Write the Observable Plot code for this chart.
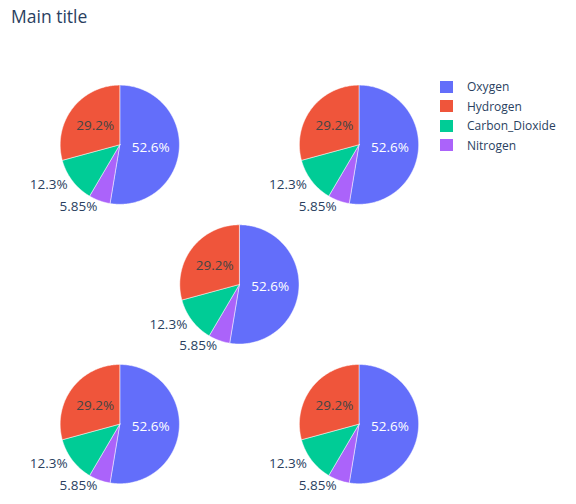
<!DOCTYPE html>
<html>
<head>
<meta charset="utf-8">
<script src="https://cdn.jsdelivr.net/npm/d3@7"></script>
<script src="https://cdn.jsdelivr.net/npm/@observablehq/plot@0.6"></script>
<style>
  body { margin: 0; background: #fff; font-family: "Open Sans", sans-serif; }
  #wrap { position: relative; width: 576px; height: 504px; overflow: hidden; }
  #header { position: relative; height: 40px; }
  #title { position: absolute; left: 11px; top: 4px; font-size: 17.5px; line-height: 24px; color: #2a3f5f; white-space: nowrap; }
  #legend { position: absolute; left: 0; top: 0; }
  .item { position: absolute; left: 440px; height: 19.5px; display: flex; align-items: center; font-size: 12px; color: #2a3f5f; white-space: nowrap; }
  .sw { width: 12.5px; height: 12px; margin-right: 14.5px; }
  svg { display: block; }
</style>
</head>
<body>
<div id="wrap">
  <div id="header"><div id="title">Main title</div></div>
  <div id="chart"></div>
  <div id="legend"></div>
</div>
<script>
// ---- data ----
const labels = ["Oxygen", "Hydrogen", "Carbon_Dioxide", "Nitrogen"];
const values = [4500, 2500, 1053, 500];
const colors = ["#636efa", "#EF553B", "#00cc96", "#ab63fa"];
// order in which slices are drawn clockwise from 12 o'clock
const drawOrder = ["Oxygen", "Nitrogen", "Carbon_Dioxide", "Hydrogen"];
// grid cells (row, column) of the five identical pies
const pieRows = [0, 0, 1, 2, 2];
const pieCols = [0, 2, 1, 0, 2];

// ---- layout (page pixels) ----
const W = 576, H = 504, headerH = 40;
const colX0 = 119.3, colStep = 119.6;
const rowY0 = 144.2, rowStep = 139.7;
const R = 59.6;

const total = d3.sum(values);
const fmt = d3.format(".3p");
const ordered = drawOrder.map(l => ({label: l, value: values[labels.indexOf(l)]}));
const arcs = d3.pie().sort(null).value(d => d.value)(ordered);

function brightness(c) {
  const r = d3.rgb(c);
  return (r.r * 299 + r.g * 587 + r.b * 114) / 1000;
}

const polys = [];
const inside = [];
const outside = [];
pieRows.forEach((row, i) => {
  const cx = colX0 + pieCols[i] * colStep;
  const cy = rowY0 + row * rowStep;
  arcs.forEach(a => {
    const id = i + "-" + a.data.label;
    polys.push({id, label: a.data.label, x: cx, y: cy});
    const n = Math.max(2, Math.ceil((a.endAngle - a.startAngle) / (Math.PI / 180)));
    for (let k = 0; k <= n; k++) {
      const t = a.startAngle + (a.endAngle - a.startAngle) * k / n;
      polys.push({id, label: a.data.label, x: cx + R * Math.sin(t), y: cy - R * Math.cos(t)});
    }
    polys.push({id, label: a.data.label, x: cx, y: cy});
    const mid = (a.startAngle + a.endAngle) / 2;
    const frac = a.data.value / total;
    const col = colors[labels.indexOf(a.data.label)];
    if (frac >= 0.2) {
      const d = R * 0.52;
      inside.push({x: cx + d * Math.sin(mid), y: cy - d * Math.cos(mid), text: fmt(frac),
                   color: brightness(col) > 128 ? "#444" : "#ffffff"});
    } else {
      const d = R * 1.1;
      outside.push({x: cx + d * Math.sin(mid), y: cy - d * Math.cos(mid), text: fmt(frac)});
    }
  });
});

const chart = Plot.plot({
  width: W,
  height: H - headerH,
  margin: 0,
  style: {fontFamily: "Open Sans, sans-serif", fontSize: "13.5px", background: "transparent"},
  x: {domain: [0, W], range: [0, W], axis: null},
  y: {domain: [headerH, H], range: [0, H - headerH], axis: null},
  color: {domain: labels, range: colors},
  marks: [
    Plot.line(polys, {x: "x", y: "y", z: "id", fill: "label", stroke: "white", strokeWidth: 0.6, strokeOpacity: 0.8, curve: "linear"}),
    Plot.text(inside, {x: "x", y: "y", text: "text", fill: d => d.color, fontSize: 13.5, textAnchor: "middle"}),
    Plot.text(outside, {x: "x", y: "y", text: "text", fill: "#2a3f5f", fontSize: 13.5, textAnchor: "end"})
  ]
});
document.getElementById("chart").appendChild(chart);

// legend
const legend = document.getElementById("legend");
labels.forEach((l, i) => {
  const div = document.createElement("div");
  div.className = "item";
  div.style.top = (77 + i * 19.5) + "px";
  const sw = document.createElement("span");
  sw.className = "sw";
  sw.style.background = colors[i];
  const tx = document.createElement("span");
  tx.textContent = l;
  div.appendChild(sw);
  div.appendChild(tx);
  legend.appendChild(div);
});
</script>
</body>
</html>
